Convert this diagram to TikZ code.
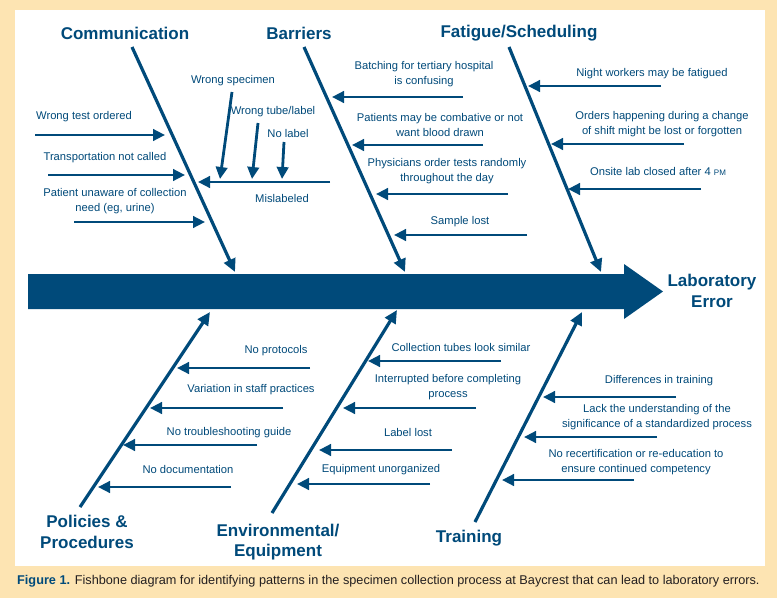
\documentclass[tikz,border=0pt]{standalone}
\usepackage{fontspec}
\setmainfont{Liberation Sans}
\usetikzlibrary{arrows.meta}
\definecolor{fb}{RGB}{0,74,122}
\definecolor{frame}{RGB}{253,228,178}
\definecolor{captxt}{RGB}{35,31,32}
\tikzset{
  bone/.style={draw=fb,line width=3.2pt,-{Triangle[length=13pt,width=12pt]}},
  sub/.style={draw=fb,line width=2.8pt,-{Triangle[length=12pt,width=11.5pt]}},
  cause/.style={text=fb,font=\fontsize{11.2}{14.5}\selectfont,align=center,inner sep=0pt},
  title/.style={text=fb,font=\bfseries\fontsize{17}{20.5}\selectfont,align=center,inner sep=0pt},
}
\begin{document}
\begin{tikzpicture}[x=1pt,y=-1pt]
\useasboundingbox (0,0) rectangle (777,598);
\fill[frame] (0,0) rectangle (777,598);
\fill[white] (15,10) rectangle (765,566);
% main spine
\fill[fb] (28,274) -- (624,274) -- (624,264) -- (663,291.5) -- (624,319) -- (624,309) -- (28,309) -- cycle;
\node[title] (lab) at (712,291) {Laboratory\\Error};
% titles
\node[title] (tcom) at (125,33) {Communication};
\node[title] (tbar) at (299,33) {Barriers};
\node[title] (tfat) at (519,33) {Fatigue/Scheduling};
\node[title] (tpol) at (87,532) {Policies \&\\Procedures};
\node[title] (tenv) at (278,542) {Environmental/\\Equipment};
\node[title] (ttra) at (469,538) {Training};
% bones
\coordinate (c0) at (132,47); \coordinate (c1) at (235,272);
\coordinate (b0) at (304,47); \coordinate (b1) at (405,272);
\coordinate (f0) at (509,47); \coordinate (f1) at (601,272);
\coordinate (p0) at (80,507); \coordinate (p1) at (210,312);
\coordinate (e0) at (272,513); \coordinate (e1) at (397,310);
\coordinate (t0) at (475,522); \coordinate (t1) at (582,312);
\draw[bone] (c0) -- (c1);
\draw[bone] (b0) -- (b1);
\draw[bone] (f0) -- (f1);
\draw[bone] (p0) -- (p1);
\draw[bone] (e0) -- (e1);
\draw[bone] (t0) -- (t1);
% Communication causes
\node[cause] (n1) at (84,117) {Wrong test ordered};
\coordinate (n1a) at (35,135); \coordinate (n1b) at (165,135);
\draw[sub] (n1a) -- (n1b);
\node[cause] (n2) at (105,158) {Transportation not called};
\coordinate (n2a) at (48,175); \coordinate (n2b) at (185,175);
\draw[sub] (n2a) -- (n2b);
\node[cause] (n3) at (115,201) {Patient unaware of collection\\need (eg, urine)};
\coordinate (n3a) at (74,222); \coordinate (n3b) at (205,222);
\draw[sub] (n3a) -- (n3b);
% Mislabeled
\coordinate (m0) at (330,182); \coordinate (m1) at (198,182);
\draw[sub] (m0) -- (m1);
\node[cause] (mis) at (282,198) {Mislabeled};
\node[cause] (ws) at (233,81) {Wrong specimen};
\coordinate (ws0) at (232,92); \coordinate (ws1) at (220,179);
\draw[sub] (ws0) -- (ws1);
\node[cause] (wt) at (273,112) {Wrong tube/label};
\coordinate (wt0) at (258,123); \coordinate (wt1) at (252,179);
\draw[sub] (wt0) -- (wt1);
\node[cause] (nl) at (288,133) {No label};
\coordinate (nl0) at (284,142); \coordinate (nl1) at (282,179);
\draw[sub] (nl0) -- (nl1);
% Barriers causes
\node[cause] (b1t) at (424,74) {Batching for tertiary hospital\\is confusing};
\coordinate (b1a) at (463,97); \coordinate (b1b) at (332,97);
\draw[sub] (b1a) -- (b1b);
\node[cause] (b2t) at (440,125) {Patients may be combative or not\\want blood drawn};
\coordinate (b2a) at (483,145); \coordinate (b2b) at (352,145);
\draw[sub] (b2a) -- (b2b);
\node[cause] (b3t) at (447,171) {Physicians order tests randomly\\throughout the day};
\coordinate (b3a) at (508,194); \coordinate (b3b) at (376,194);
\draw[sub] (b3a) -- (b3b);
\node[cause] (b4t) at (460,222) {Sample lost};
\coordinate (b4a) at (527,235); \coordinate (b4b) at (394,235);
\draw[sub] (b4a) -- (b4b);
% Fatigue causes
\node[cause] (f1t) at (652,74) {Night workers may be fatigued};
\coordinate (f1a) at (661,86); \coordinate (f1b) at (528,86);
\draw[sub] (f1a) -- (f1b);
\node[cause] (f2t) at (662,124) {Orders happening during a change\\of shift might be lost or forgotten};
\coordinate (f2a) at (684,144); \coordinate (f2b) at (551,144);
\draw[sub] (f2a) -- (f2b);
\node[cause] (f3t) at (658,171) {Onsite lab closed after 4 {\fontsize{8}{9}\selectfont PM}};
\coordinate (f3a) at (701,189); \coordinate (f3b) at (568,189);
\draw[sub] (f3a) -- (f3b);
% Policies causes
\node[cause] (p1t) at (276,351) {No protocols};
\coordinate (p1a) at (310,368); \coordinate (p1b) at (177,368);
\draw[sub] (p1a) -- (p1b);
\node[cause] (p2t) at (251,390) {Variation in staff practices};
\coordinate (p2a) at (283,408); \coordinate (p2b) at (150,408);
\draw[sub] (p2a) -- (p2b);
\node[cause] (p3t) at (229,433) {No troubleshooting guide};
\coordinate (p3a) at (257,445); \coordinate (p3b) at (123,445);
\draw[sub] (p3a) -- (p3b);
\node[cause] (p4t) at (188,469) {No documentation};
\coordinate (p4a) at (231,487); \coordinate (p4b) at (98,487);
\draw[sub] (p4a) -- (p4b);
% Environmental causes
\node[cause] (e1t) at (461,347) {Collection tubes look similar};
\coordinate (e1a) at (501,361); \coordinate (e1b) at (368,361);
\draw[sub] (e1a) -- (e1b);
\node[cause] (e2t) at (448,387) {Interrupted before completing\\process};
\coordinate (e2a) at (476,408); \coordinate (e2b) at (343,408);
\draw[sub] (e2a) -- (e2b);
\node[cause] (e3t) at (408,432) {Label lost};
\coordinate (e3a) at (452,450); \coordinate (e3b) at (319,450);
\draw[sub] (e3a) -- (e3b);
\node[cause] (e4t) at (381,470) {Equipment unorganized};
\coordinate (e4a) at (430,484); \coordinate (e4b) at (297,484);
\draw[sub] (e4a) -- (e4b);
% Training causes
\node[cause] (t1t) at (659,381) {Differences in training};
\coordinate (t1a) at (676,397); \coordinate (t1b) at (543,397);
\draw[sub] (t1a) -- (t1b);
\node[cause] (t2t) at (657,417) {Lack the understanding of the\\significance of a standardized process};
\coordinate (t2a) at (657,437); \coordinate (t2b) at (524,437);
\draw[sub] (t2a) -- (t2b);
\node[cause] (t3t) at (636,462) {No recertification or re-education to\\ensure continued competency};
\coordinate (t3a) at (634,480); \coordinate (t3b) at (502,480);
\draw[sub] (t3a) -- (t3b);
% caption
\node[anchor=west,inner sep=0pt,text=captxt,font=\fontsize{12.7}{14}\selectfont] (cap) at (17,581)
  {{\bfseries\color{fb}Figure 1.} Fishbone diagram for identifying patterns in the specimen collection process at Baycrest that can lead to laboratory errors.};
\end{tikzpicture}
\end{document}
